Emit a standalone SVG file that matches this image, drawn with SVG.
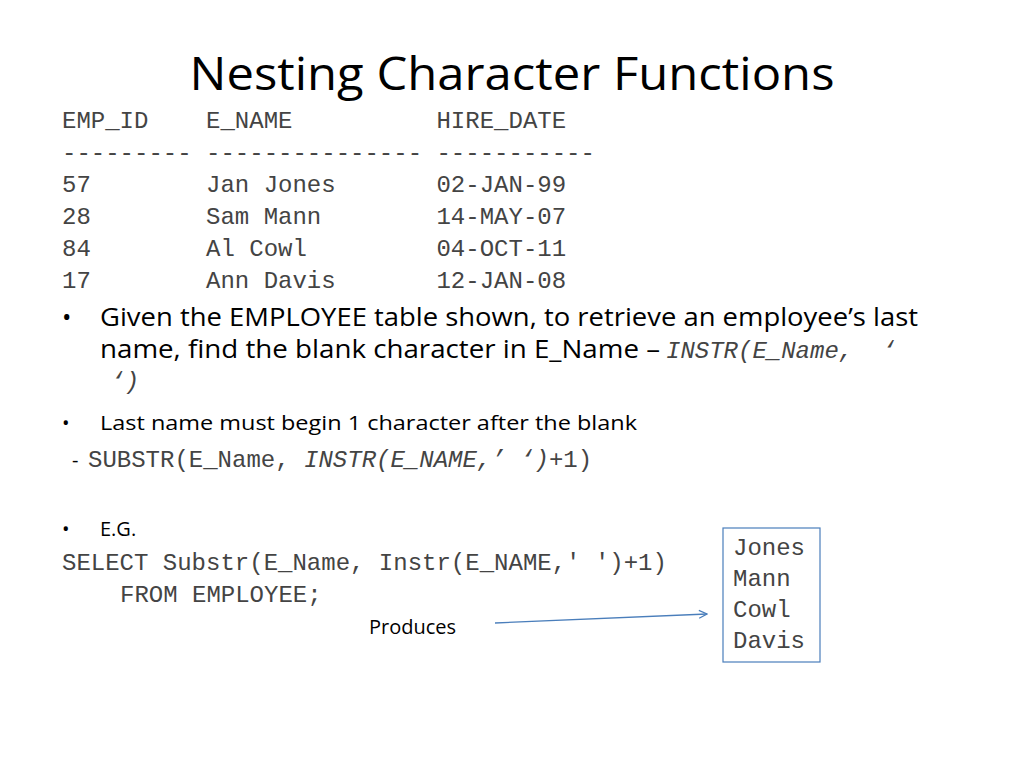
<svg xmlns="http://www.w3.org/2000/svg" width="1024" height="768" viewBox="0 0 1024 768">
<style>
.t{font-family:"Open Sans","Noto Sans",sans-serif;fill:#000}
.m{font-family:"Liberation Mono","Courier New",monospace;font-size:24px;fill:#444}
.i{font-style:italic}
</style>
<defs><marker id="a" markerWidth="10" markerHeight="10" refX="9" refY="5" orient="auto" markerUnits="userSpaceOnUse"><path d="M1,1 L9,5 L1,9" fill="none" stroke="#4a7ebb" stroke-width="1.2"/></marker></defs>
<rect width="1024" height="768" fill="#fff"/>
<text class="t" x="512" y="90" font-size="46" text-anchor="middle" textLength="645" lengthAdjust="spacingAndGlyphs">Nesting Character Functions</text>
<g id="table">
<text class="m" x="62" y="128" xml:space="preserve">EMP_ID    E_NAME          HIRE_DATE</text>
<text class="m" x="62" y="160" xml:space="preserve">--------- --------------- -----------</text>
<text class="m" x="62" y="192" xml:space="preserve">57        Jan Jones       02-JAN-99</text>
<text class="m" x="62" y="224" xml:space="preserve">28        Sam Mann        14-MAY-07</text>
<text class="m" x="62" y="256" xml:space="preserve">84        Al Cowl         04-OCT-11</text>
<text class="m" x="62" y="288" xml:space="preserve">17        Ann Davis       12-JAN-08</text>
</g>
<g id="bullets">
<text class="t" x="62" y="326" font-size="25">•</text>
<text class="t" x="100" y="326" font-size="25" textLength="818" lengthAdjust="spacingAndGlyphs">Given the EMPLOYEE table shown, to retrieve an employee’s last</text>
<text class="t" x="100" y="358" font-size="25" textLength="560" lengthAdjust="spacingAndGlyphs">name, find the blank character in E_Name –</text>
<text class="m i" x="666" y="358" xml:space="preserve">INSTR(E_Name,  ‘</text>
<text class="m i" x="96" y="389" xml:space="preserve"> ‘)</text>
<text class="t" x="62" y="430" font-size="20">•</text>
<text class="t" x="100" y="430" font-size="20" textLength="537" lengthAdjust="spacingAndGlyphs">Last name must begin 1 character after the blank</text>
<text class="t" x="72" y="467" font-size="20">-</text>
<text class="m" x="88" y="467">SUBSTR(E_Name, <tspan class="i">INSTR(E_NAME,’ ‘)</tspan>+1)</text>
<text class="t" x="62" y="536" font-size="20">•</text>
<text class="t" x="100" y="536" font-size="20">E.G.</text>
<text class="m" x="62" y="570">SELECT Substr(E_Name, Instr(E_NAME,' ')+1)</text>
<text class="m" x="120" y="602">FROM EMPLOYEE;</text>
</g>
<g id="produces"><text class="t" x="369" y="634" font-size="20">Produces</text></g>
<g id="result">
<rect x="723" y="528" width="97" height="134" fill="#fff" stroke="#4a7ebb" stroke-width="1.2"/>
<text class="m" x="733" y="555">Jones</text>
<text class="m" x="733" y="586">Mann</text>
<text class="m" x="733" y="617">Cowl</text>
<text class="m" x="733" y="648">Davis</text>
</g>
<g id="connectors"><line x1="495" y1="623" x2="707" y2="614" stroke="#4a7ebb" stroke-width="1.3" marker-end="url(#a)"/></g>
</svg>
